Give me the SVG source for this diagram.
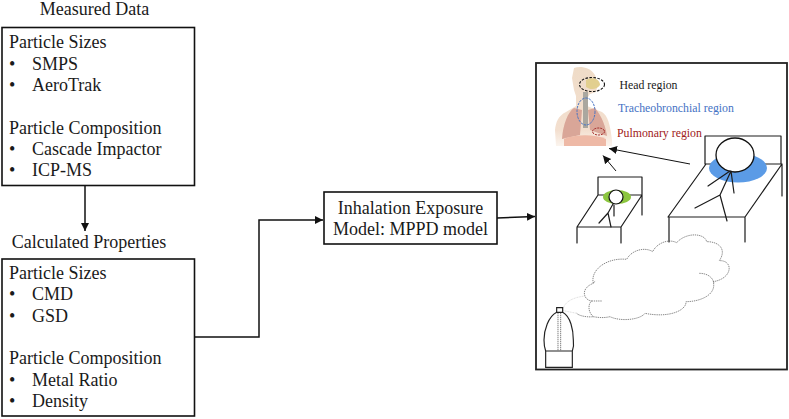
<svg xmlns="http://www.w3.org/2000/svg" width="789" height="419" viewBox="0 0 789 419">
<style>
text{font-family:"Liberation Serif","Times New Roman",serif;fill:#1a1a1a}
.t{font-size:18px}
.s{font-size:11.800px}
.box{fill:#fff;stroke:#111;stroke-width:1.6}
.conn{fill:none;stroke:#111;stroke-width:1.5}
.ln{fill:none;stroke:#1c1c1c;stroke-width:1.2;stroke-linecap:round;stroke-linejoin:round}
.cl{fill:none;stroke:#4a4a4a;stroke-width:2;stroke-dasharray:4 2.500}
</style>
<defs>
<marker id="a" markerUnits="userSpaceOnUse" markerWidth="9" markerHeight="9" refX="8" refY="4" orient="auto"><path d="M0 0L8 4L0 8z" fill="#111"/></marker>
<filter id="b" x="-20%" y="-20%" width="140%" height="140%"><feGaussianBlur stdDeviation="0.700"/></filter>
<linearGradient id="f" x1="0" y1="0" x2="0" y2="1"><stop offset="0" stop-color="#efdcc8"/><stop offset=".8" stop-color="#f3dfcf"/><stop offset="1" stop-color="#fbf4ee"/></linearGradient>
</defs>
<rect width="789" height="419" fill="#fff"/>
<g id="connectors">
<path class="conn" d="M85 185V231" marker-end="url(#a)"/>
<path class="conn" d="M195 337H259V220H323" marker-end="url(#a)"/>
<path class="conn" d="M497 218L535 216.500" marker-end="url(#a)"/>
</g>
<g id="measured-data">
<text class="t" x="94.500" y="15" text-anchor="middle">Measured Data</text>
<rect class="box" x="2" y="27.500" width="192.500" height="158"/>
<text class="t" x="9" y="48">Particle Sizes</text>
<text class="t" x="9" y="70">•</text><text class="t" x="32" y="70">SMPS</text>
<text class="t" x="9" y="91">•</text><text class="t" x="32" y="91">AeroTrak</text>
<text class="t" x="9" y="134">Particle Composition</text>
<text class="t" x="9" y="155">•</text><text class="t" x="32" y="155">Cascade Impactor</text>
<text class="t" x="9" y="176">•</text><text class="t" x="32" y="176">ICP-MS</text>
</g>
<g id="calculated-properties">
<text class="t" x="89" y="248" text-anchor="middle">Calculated Properties</text>
<rect class="box" x="2" y="259" width="192.500" height="157"/>
<text class="t" x="9" y="279">Particle Sizes</text>
<text class="t" x="9" y="300">•</text><text class="t" x="32" y="300">CMD</text>
<text class="t" x="9" y="322">•</text><text class="t" x="32" y="322">GSD</text>
<text class="t" x="9" y="364">Particle Composition</text>
<text class="t" x="9" y="386">•</text><text class="t" x="32" y="386">Metal Ratio</text>
<text class="t" x="9" y="407">•</text><text class="t" x="32" y="407">Density</text>
</g>
<g id="model">
<rect class="box" x="324" y="192" width="173" height="52"/>
<text class="t" x="410.500" y="214" text-anchor="middle">Inhalation Exposure</text>
<text class="t" x="410.500" y="235" text-anchor="middle">Model: MPPD model</text>
</g>
<g id="scene">
<rect x="536" y="63" width="251" height="306.500" fill="#fff" stroke="#222" stroke-width="1.8"/>
<g id="body">
<path filter="url(#b)" fill="url(#f)" d="M574 68C580 66 590 67 595 75L598 84L596 92L590 94L586 100L587 106L602 112C608 116 610 124 612 140L612 146L556 146L555 130C556 122 558 116 566 112L576 106L576 96L574 90L572 78Z"/>
<path filter="url(#b)" fill="#d9a698" d="M574 108C568 112 563 124 562 139L580 135L582 110ZM588 110L595 108C602 116 606 128 607 136L590 130Z"/>
<path filter="url(#b)" fill="#eeb9a6" d="M564 139C575 134 595 134 606 139L606 146L564 146Z"/>
<path filter="url(#b)" fill="#aaa79f" d="M583 92h5v36h-5z"/>
<path filter="url(#b)" fill="#e2cf8f" d="M586 80C592 76 600 79 600 85C597 90 590 90 586 87Z"/>
<ellipse cx="592" cy="84.500" rx="12.500" ry="7" fill="none" stroke="#111" stroke-width="1.100" stroke-dasharray="2.500 1.500"/>
<ellipse cx="586" cy="111.500" rx="9" ry="13.500" fill="none" stroke="#4472c4" stroke-width="1" stroke-dasharray="2.500 1"/>
<ellipse cx="598.500" cy="131.500" rx="6" ry="3.500" fill="none" stroke="#a02020" stroke-width="1" stroke-dasharray="2 1"/>
</g>
<text class="s" x="619.500" y="88.500">Head region</text>
<text class="s" x="618" y="112" style="fill:#4472c4">Tracheobronchial region</text>
<text class="s" x="617" y="137" style="fill:#a02020">Pulmonary region</text>
<path class="conn" style="stroke-width:1" d="M690 164L609 148.500" marker-end="url(#a)"/>
<path class="conn" style="stroke-width:1" d="M616 171L603 155.500" marker-end="url(#a)"/>
<g id="large-bed">
<path class="ln" d="M705 164V136H781V164M706 164L668 217H745L782 164H706M782 164V196M669 217V242M745 217V242"/>
<ellipse cx="738" cy="168" rx="29" ry="14.500" fill="#5b9be6"/>
<ellipse cx="735" cy="155" rx="19" ry="17" fill="#fff" stroke="#111" stroke-width="1.300"/>
<path class="ln" d="M731 171L720 195M730 171L708 186M731 171L734 193M720 195L695 208M720 195L727 221"/>
</g>
<g id="small-bed">
<path class="ln" d="M598 195V177H642V215M598 195L577 227H621L642 195H598M577 227V243M621 227V243"/>
<ellipse cx="617" cy="197" rx="14" ry="7" fill="#8cc63f"/>
<circle cx="616" cy="197" r="7" fill="#fff" stroke="#111" stroke-width="1.200"/>
<path class="ln" d="M613 204L608 213L599 223M614 205V216M608 213L611 227"/>
</g>
<g id="cloud" transform="translate(530 220) scale(.3333)">
<path class="cl" d="M140 280C150 290 180 292 190 290C172 275 175 250 185 243C160 240 150 205 190 190C180 150 230 112 290 118C305 90 345 80 368 95C380 70 415 55 440 68C470 35 525 40 530 65C570 65 590 90 568 122C610 120 610 175 550 185C560 225 510 245 468 245C470 270 420 295 345 280C330 300 270 305 240 290C220 295 200 292 190 290"/>
<path class="cl" d="M185 243L215 243M508 160C530 160 548 170 552 190M190 190L195 183"/>
</g>
<g id="canister" transform="translate(530 220) scale(.3333)">
<path fill="none" stroke="#ccc" stroke-width="2" stroke-dasharray="3 2" d="M100 265C105 245 130 232 165 228M100 272L140 280"/>
<path fill="none" stroke="#222" stroke-width="3.500" d="M80 263H98V277H80ZM80 277C55 290 42 330 42 360C42 375 44 385 47 393H127C130 385 132 375 130 360C130 330 122 290 98 277M47 393V442H127V393"/>
<path fill="none" stroke="#666" stroke-width="2.500" stroke-dasharray="4 2" d="M84 279V393M92 279V393"/>
</g>
</g>
</svg>
